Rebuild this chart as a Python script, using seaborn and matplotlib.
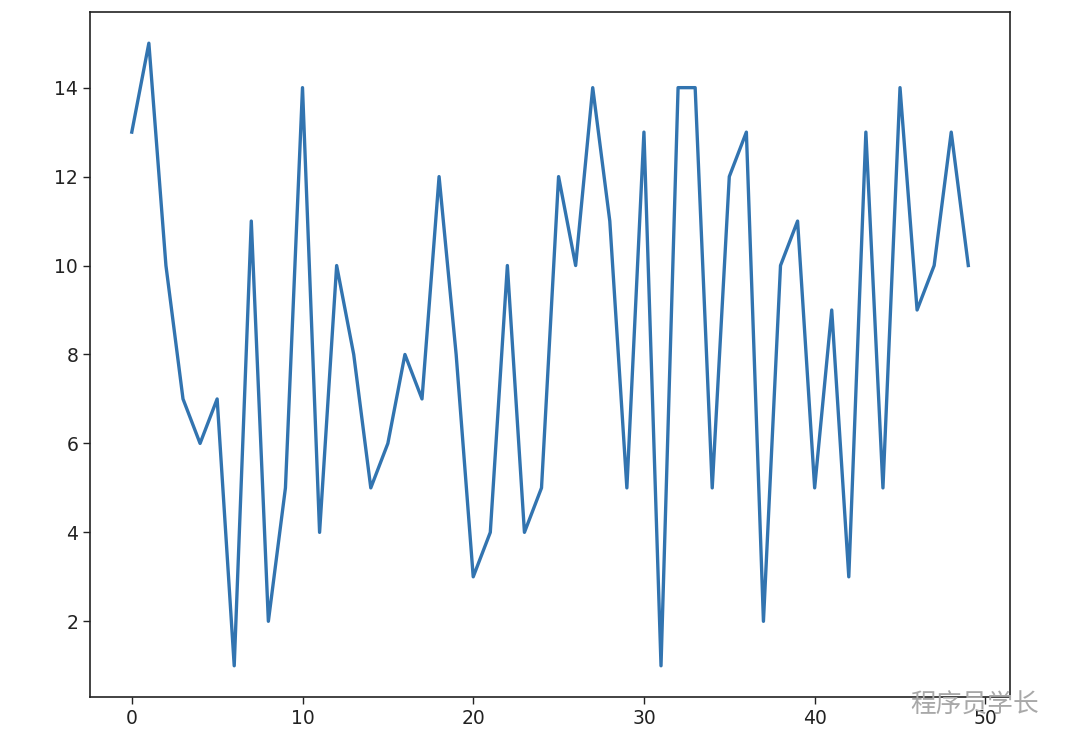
import matplotlib
matplotlib.use("Agg")
import matplotlib.pyplot as plt
import seaborn as sns
import pandas as pd

x_index = list(range(50))
values = [13, 15, 10, 7, 6, 7, 1, 11, 2, 5,
          14, 4, 10, 8, 5, 6, 8, 7, 12, 8,
          3, 4, 10, 4, 5, 12, 10, 14, 11, 5,
          13, 1, 14, 14, 5, 12, 13, 2, 10, 11,
          5, 9, 3, 13, 5, 14, 9, 10, 13, 10]
watermark = "程序员学长"

df = pd.DataFrame({"x": x_index, "y": values})

fig = plt.figure(figsize=(10.8, 7.53), dpi=100)
ax = fig.add_axes([0.0833, 0.0745, 0.852, 0.9095])
sns.lineplot(data=df, x="x", y="y", ax=ax, color="#3274b0", linewidth=2.4)
ax.set_xlabel("")
ax.set_ylabel("")
ax.set_xticks([0, 10, 20, 30, 40, 50])
ax.set_yticks([2, 4, 6, 8, 10, 12, 14])
ax.tick_params(labelsize=13.5, length=5, width=1, colors="#222222")
for s in ax.spines.values():
    s.set_linewidth(1.2)
    s.set_color("#222222")

fig.text(0.843, 0.063, watermark, fontsize=18.5, color="#a8a8a8",
         family=["Noto Sans CJK SC", "DejaVu Sans"], va="center", ha="left")

fig.savefig("out.png", dpi=100, facecolor="white")
